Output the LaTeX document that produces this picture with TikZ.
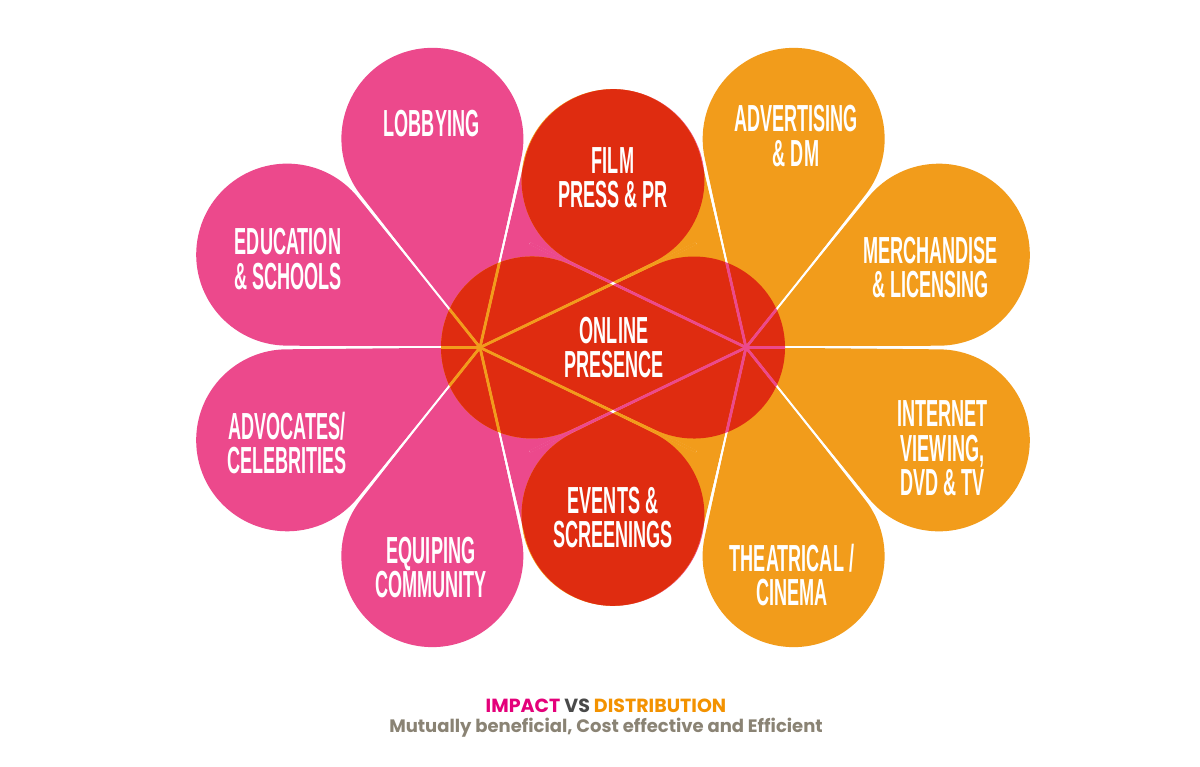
\documentclass[tikz,border=0pt]{standalone}
\usepackage{fontspec}
\newfontfamily\lab[FakeStretch=0.48]{Liberation Sans}
\newfontfamily\capfont{Poppins}
\definecolor{pk}{HTML}{EC498C}
\definecolor{og}{HTML}{F29C1B}
\definecolor{rd}{HTML}{DF2C10}
\definecolor{tpk}{HTML}{E4007A}
\definecolor{tgr}{HTML}{4A4A4A}
\definecolor{tog}{HTML}{F39200}
\definecolor{tbr}{HTML}{8A8374}
\newcommand\petal[2]{(#1) -- ++({#2-25.17}:193.7) arc[start angle={#2-115.17}, end angle={#2+115.17}, radius=91pt] -- cycle}
\newcommand\pinkflower{\petal{P}{0} \petal{P}{51.43} \petal{P}{102.86} \petal{P}{154.29} \petal{P}{205.71} \petal{P}{257.14} \petal{P}{308.57}}
\newcommand\orangeflower{\petal{O}{25.71} \petal{O}{77.14} \petal{O}{128.57} \petal{O}{180} \petal{O}{231.43} \petal{O}{282.86} \petal{O}{334.29}}
\tikzset{
  gapline/.style={line width=2pt},
  recolor/.style={line width=2.8pt},
  lbl/.style={text=white, font=\lab\bfseries\fontsize{37.7}{34.5}\selectfont, align=center, inner sep=0pt},
}
\begin{document}
\begin{tikzpicture}[x=1pt,y=1pt]
\useasboundingbox[fill=white] (0,0) rectangle (1200,767);
\coordinate (P) at (480,419.5);
\coordinate (O) at (746,419.5);
% flowers
\fill[pk] \pinkflower;
\fill[og] \orangeflower;
\begin{scope}
  \clip \pinkflower;
  \fill[rd] \orangeflower;
\end{scope}
% gaps of the pink flower
\foreach \b in {25.71,77.14,128.57,180,231.43,282.86,334.29}
  \draw[gapline,white] (P) -- ++(\b:240);
\begin{scope}
  \clip \orangeflower;
  \foreach \b in {25.71,77.14,128.57,180,231.43,282.86,334.29}
    \draw[recolor,og] (P) -- ++(\b:240);
\end{scope}
% gaps of the orange flower
\foreach \a in {0,51.43,102.86,154.29,205.71,257.14,308.57}
  \draw[gapline,white] (O) -- ++(\a:240);
\begin{scope}
  \clip \pinkflower;
  \foreach \a in {0,51.43,102.86,154.29,205.71,257.14,308.57}
    \draw[recolor,pk] (O) -- ++(\a:240);
\end{scope}
% crossings of both gaps stay white
\foreach \a in {0,51.43,102.86,154.29,205.71,257.14,308.57}{
  \begin{scope}
    \clip[rotate around={\a:(746,419.5)}] (746,418.5) -- (1000,418.5) -- (1000,420.5) -- (746,420.5) -- cycle;
    \foreach \b in {25.71,77.14,128.57,180,231.43,282.86,334.29}
      \draw[gapline,white] (P) -- ++(\b:240);
  \end{scope}
}
% labels
\node[lbl] (lob) at (431.5,643) {LOBBYING};
\node[lbl] (edu) at (288,508) {EDUCATION\\\& SCHOOLS};
\node[lbl] (adv) at (287,324) {ADVOCATES/\\CELEBRITIES};
\node[lbl] (equ) at (431,199.5) {EQUIPING\\COMMUNITY};
\node[lbl] (film) at (613,589.5) {FILM\\PRESS \& PR};
\node[lbl] (onl) at (614,419.5) {ONLINE\\PRESENCE};
\node[lbl] (evt) at (613,249.5) {EVENTS \&\\SCREENINGS};
\node[lbl] (ads) at (796,631) {ADVERTISING\\\& DM};
\node[lbl] (mer) at (930.5,499.5) {MERCHANDISE\\\& LICENSING};
\node[lbl] (int) at (942.5,318.5) {INTERNET\\VIEWING,\\DVD \& TV};
\node[lbl] (the) at (792,192) {THEATRICAL /\\CINEMA};
% caption
\node[anchor=base, inner sep=0pt, font=\capfont\bfseries\fontsize{19}{19}\selectfont] (title) at (606,54.7)
  {\textcolor{tpk}{IMPACT} \textcolor{tgr}{VS} \textcolor{tog}{DISTRIBUTION}};
\node[anchor=base, inner sep=0pt, text=tbr, font=\capfont\bfseries\fontsize{18}{18}\selectfont] (sub) at (606,34.5)
  {Mutually beneficial, Cost effective and Efficient};
\end{tikzpicture}
\end{document}
